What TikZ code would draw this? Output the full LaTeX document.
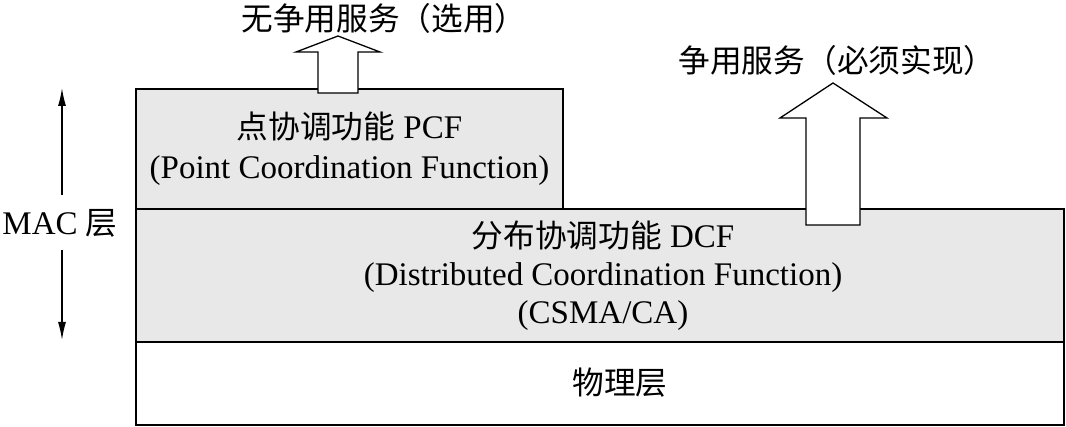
\documentclass[tikz,border=0pt]{standalone}
\usepackage{fontspec}
\setmainfont{Liberation Serif}
\newfontfamily\cjk[Scale=0.96]{Noto Sans CJK SC}
\usetikzlibrary{arrows.meta}
\definecolor{boxgray}{RGB}{232,232,232}
\begin{document}
\begin{tikzpicture}[x=1pt,y=-1pt,
  txt/.style={font=\fontsize{33}{38}\selectfont, align=center, inner sep=0pt},
  layerbox/.style={inner sep=0pt, outer sep=0pt, anchor=north west},
  border/.style={line width=2.3pt, line join=miter},
  hollow/.style={draw, line width=1.3pt, fill=white, line join=miter},
  dblarrow/.style={line width=1.3pt, -{Latex[length=18pt,width=8pt]}}]
\useasboundingbox (0,0) rectangle (1066,427);
% PCF box
\node[layerbox, fill=boxgray, minimum width=427pt, minimum height=120pt] (pcf) at (136,89) {};
\node[txt] (pcftxt) at (pcf.center) {{\cjk 点协调功能} PCF\\[2pt](Point Coordination Function)};
% DCF box and physical layer
\node[layerbox, fill=boxgray, minimum width=928pt, minimum height=133pt] (dcf) at (136,209) {};
\node[layerbox, fill=white, minimum width=928pt, minimum height=83pt] (phy) at (136,342) {};
\draw[border] (dcf.north west) rectangle (phy.south east);
\draw[line width=1.1pt] (dcf.south west) -- (dcf.south east);
\draw[border] (pcf.north west) rectangle (pcf.south east);
\node[txt] (dcftxt) at ([xshift=3pt]dcf.center) {{\cjk 分布协调功能} DCF\\(Distributed Coordination Function)\\(CSMA/CA)};
\node[txt] (phytxt) at (620,383) {\cjk 物理层};
% hollow arrows
\draw[hollow] (318,93) -- (318,52) -- (296,52) -- (338,36) -- (380,52) -- (358,52) -- (358,93) -- cycle;
\draw[hollow] (806,225) -- (806,118) -- (780,118) -- (833,83) -- (887,118) -- (860,118) -- (860,225) -- cycle;
\node[txt] (t1) at (384,18) {\cjk 无争用服务（选用）};
\node[txt] (t2) at (837,60) {\cjk 争用服务（必须实现）};
% MAC layer label
\node[txt] (mac) at (60,223) {MAC {\cjk 层}};
\coordinate (mtop) at (62,88);
\coordinate (mbot) at (62,340);
\coordinate (ustart) at (62,195);
\coordinate (dstart) at (62,250);
\draw[dblarrow] (ustart) -- (mtop);
\draw[dblarrow] (dstart) -- (mbot);
\end{tikzpicture}
\end{document}
